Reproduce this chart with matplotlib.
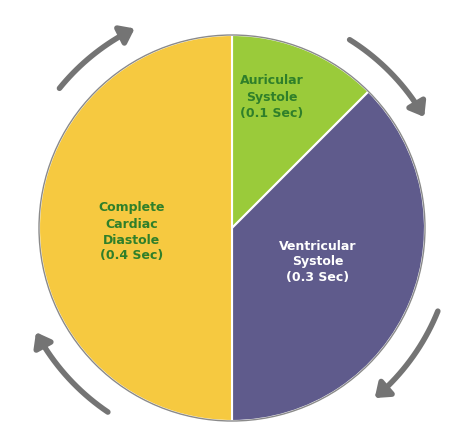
import numpy as np
import matplotlib.pyplot as plt
from matplotlib.patches import FancyArrowPatch, Circle
from matplotlib.path import Path

phases = ["Auricular\nSystole\n(0.1 Sec)", "Ventricular\nSystole\n(0.3 Sec)", "Complete\nCardiac\nDiastole\n(0.4 Sec)"]
durations = [0.1, 0.3, 0.4]
colors = ["#9ACB3A", "#5F5B8C", "#F6C940"]
text_colors = ["#2F7F2A", "#FFFFFF", "#2F7F2A"]
label_pos = [(272, 344), (318, 179), (132, 209)]

# arrow arcs (start angle, end angle) in degrees, clockwise direction
arrow_arcs = [(141, 116), (58, 30), (-22, -50), (236, 208)]

fig = plt.figure(figsize=(4.74, 4.41), dpi=100)
ax = fig.add_axes([0, 0, 1, 1])

cx, cy, r = 232, 213, 193
ax.pie(durations, colors=colors, startangle=90, counterclock=False,
       center=(cx, cy), radius=r, frame=True,
       wedgeprops=dict(edgecolor="white", linewidth=1.5))
ax.add_patch(Circle((cx, cy), r, fill=False, edgecolor="#8A8A8A", linewidth=1))
ax.set_xlim(0, 474)
ax.set_ylim(0, 441)
ax.set_aspect("equal")
ax.axis("off")

for txt, (x, y), c in zip(phases, label_pos, text_colors):
    ax.text(x, y, txt, ha="center", va="center", color=c,
            fontsize=9, fontweight="bold", linespacing=1.3)

ra = 222
for a0, a1 in arrow_arcs:
    t = np.radians(np.linspace(a0, a1, 20))
    pts = np.column_stack([cx + ra * np.cos(t), cy + ra * np.sin(t)])
    arr = FancyArrowPatch(path=Path(pts), arrowstyle="-|>,head_length=8,head_width=6",
                          color="#747474", linewidth=4)
    ax.add_patch(arr)

fig.savefig("out.png", dpi=100)
